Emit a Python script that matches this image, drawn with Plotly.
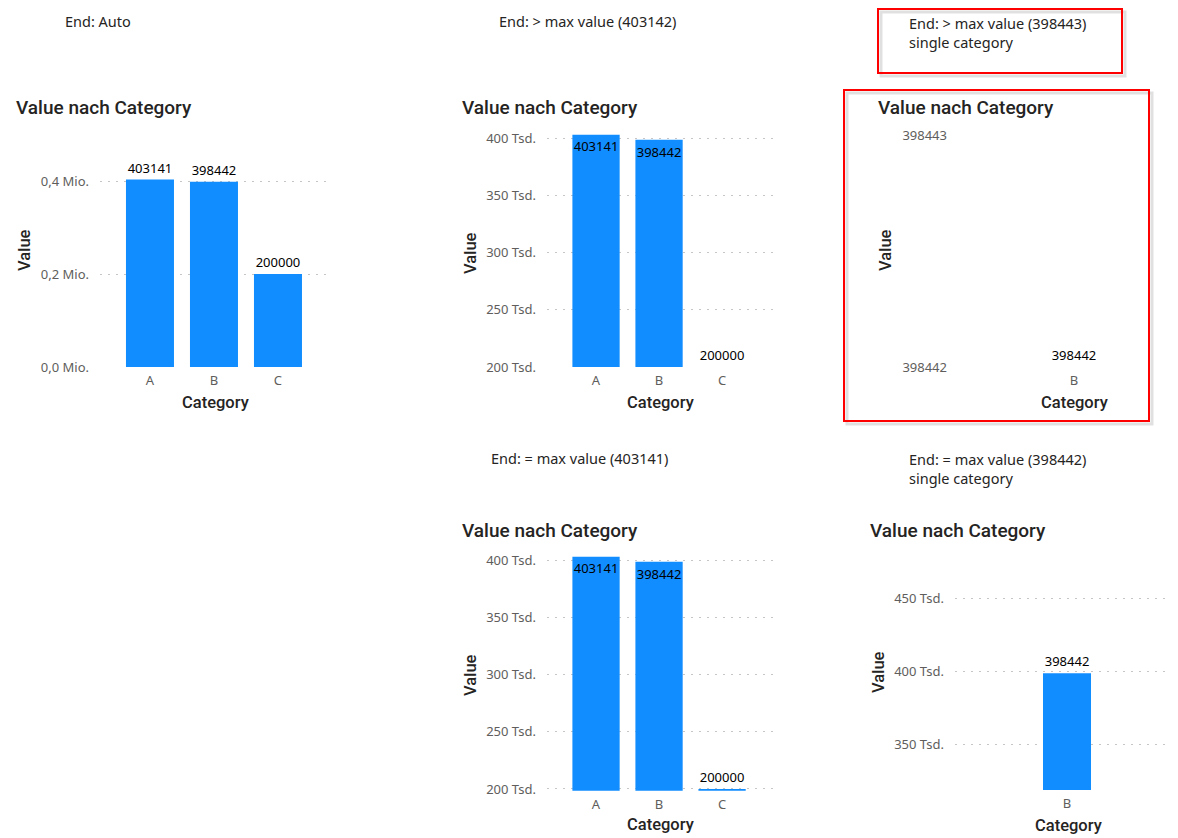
import plotly.graph_objects as go

# The page body has an 8px margin, so the figure starts at (8, 8) in the window.
OFF = 8
W, H = 1178 - OFF, 838 - OFF

# ---------------- data ----------------
categories = ["A", "B", "C"]
values = [403141, 398442, 200000]
single_category = ["B"]
single_value = [398442]

p1_tickvals = [0, 200000, 400000]
p1_ticktext = ["0,0 Mio.", "0,2 Mio.", "0,4 Mio."]
tsd_tickvals = [200000, 250000, 300000, 350000, 400000]
tsd_ticktext = ["200 Tsd.", "250 Tsd.", "300 Tsd.", "350 Tsd.", "400 Tsd."]
p3_tickvals = [398442, 398443]
p3_ticktext = ["398442", "398443"]
p5_tickvals = [350000, 400000, 450000]
p5_ticktext = ["350 Tsd.", "400 Tsd.", "450 Tsd."]

captions = [
    "End: Auto",
    "End: > max value (403142)",
    "End: > max value (398443)<br>single category",
    "End: = max value (403141)",
    "End: = max value (398442)<br>single category",
]
chart_title = "Value nach Category"
x_title = "Category"
y_title = "Value"

# ---------------- style ----------------
BAR = "#118DFF"
DARK = "#252423"
GREY = "#605E5C"
GRID = "#C8C6C4"
FONT = "Noto Sans"
TFONT = "Roboto"


def xp(px):
    return (px - OFF) / W


def yp(py):
    return 1 - (py - OFF) / H


fig = go.Figure()

panels = [
    dict(xd=(100, 327), xr=(-0.781, 2.766), yd=(160, 367), yr=(0, 445200),
         tv=p1_tickvals, tt=p1_ticktext, tp="outside", cats=categories, vals=values,
         title=(14, 108), ytitle=(24, 250), xtitle=(215, 402)),
    dict(xd=(547, 775), xr=(-0.778, 2.84), yd=(134.4, 367), yr=(200000, 403142),
         tv=tsd_tickvals, tt=tsd_ticktext, tp=["inside", "inside", "outside"],
         cats=categories, vals=values,
         title=(460, 108), ytitle=(470, 253), xtitle=(660, 402)),
    dict(xd=(958, 1178), xr=(-1.8125, 1.625), yd=(135, 367), yr=(398442, 398443),
         tv=p3_tickvals, tt=p3_ticktext, tp="outside", cats=single_category, vals=single_value,
         title=(876, 108), ytitle=(885, 250), xtitle=(1074, 402)),
    dict(xd=(547, 775), xr=(-0.778, 2.84), yd=(556.4, 790.7), yr=(198500, 403141),
         tv=tsd_tickvals, tt=tsd_ticktext, tp=["inside", "inside", "outside"],
         cats=categories, vals=values,
         title=(460, 530), ytitle=(470, 675), xtitle=(660, 824)),
    dict(xd=(955, 1178), xr=(-1.75, 1.734), yd=(560, 790), yr=(318500, 476027),
         tv=p5_tickvals, tt=p5_ticktext, tp="outside", cats=single_category, vals=single_value,
         title=(868, 530), ytitle=(878, 672), xtitle=(1068, 825)),
]

annotations = []
layout_axes = {}
for i, p in enumerate(panels, start=1):
    sfx = "" if i == 1 else str(i)
    fig.add_trace(go.Bar(
        x=list(range(len(p["cats"]))), y=p["vals"],
        text=[str(v) for v in p["vals"]],
        textposition=p["tp"], insidetextanchor="end", textangle=0,
        textfont=dict(family=FONT, size=13, color="#000000"),
        insidetextfont=dict(family=FONT, size=13, color="#000000"),
        outsidetextfont=dict(family=FONT, size=13, color="#000000"),
        constraintext="none",
        marker=dict(color=BAR, line=dict(width=0)),
        width=0.75, xaxis="x" + sfx, yaxis="y" + sfx,
        hoverinfo="skip", showlegend=False,
    ))
    layout_axes["xaxis" + sfx] = dict(
        domain=[xp(p["xd"][0]), xp(p["xd"][1])], range=list(p["xr"]),
        anchor="y" + sfx, tickmode="array",
        tickvals=list(range(len(p["cats"]))), ticktext=p["cats"],
        tickfont=dict(family=FONT, size=13, color=GREY),
        showgrid=False, zeroline=False, showline=False, ticks="",
        ticklabelstandoff=4,
        automargin=False, fixedrange=True,
    )
    layout_axes["yaxis" + sfx] = dict(
        domain=[yp(p["yd"][1]), yp(p["yd"][0])], range=list(p["yr"]),
        anchor="x" + sfx, tickmode="array", tickvals=p["tv"], ticktext=p["tt"],
        tickfont=dict(family=FONT, size=13, color=GREY),
        showgrid=True, gridcolor=GRID, griddash="2px,6px", gridwidth=1.3,
        zeroline=False, showline=False, ticks="", ticklabelstandoff=10,
        automargin=False, fixedrange=True,
    )
    annotations.append(dict(
        text=chart_title, x=xp(p["title"][0]), y=yp(p["title"][1]),
        xref="paper", yref="paper", xanchor="left", yanchor="middle",
        showarrow=False, font=dict(family=TFONT, size=19, color=DARK, weight=500),
    ))
    annotations.append(dict(
        text=y_title, x=xp(p["ytitle"][0]), y=yp(p["ytitle"][1]),
        xref="paper", yref="paper", xanchor="center", yanchor="middle",
        textangle=-90, showarrow=False,
        font=dict(family=TFONT, size=16.5, color=DARK, weight=500),
    ))
    annotations.append(dict(
        text=x_title, x=xp(p["xtitle"][0]), y=yp(p["xtitle"][1]),
        xref="paper", yref="paper", xanchor="center", yanchor="middle",
        showarrow=False, font=dict(family=TFONT, size=16.5, color=DARK, weight=500),
    ))

caption_pos = [(63, 21), (497, 21), (907, 32), (489, 458), (907, 468)]
for txt, (cx, cy) in zip(captions, caption_pos):
    annotations.append(dict(
        text=txt, x=xp(cx), y=yp(cy), xref="paper", yref="paper",
        xanchor="left", yanchor="middle", align="left", showarrow=False,
        font=dict(family=FONT, size=14.5, color=DARK),
    ))

shapes = []
for (x0, y0, x1, y1) in [(878, 9, 1122, 73), (844, 90, 1149, 421)]:
    shapes.append(dict(type="rect", xref="paper", yref="paper",
                       x0=xp(x0 + 3), x1=xp(x1 + 3), y0=yp(y1 + 3), y1=yp(y0 + 3),
                       line=dict(color="rgba(0,0,0,0.12)", width=3), layer="below"))
    shapes.append(dict(type="rect", xref="paper", yref="paper",
                       x0=xp(x0), x1=xp(x1), y0=yp(y1), y1=yp(y0),
                       line=dict(color="#FF0000", width=2), layer="above"))

fig.update_layout(
    width=W, height=H, autosize=False,
    margin=dict(l=0, r=0, t=0, b=0),
    paper_bgcolor="white", plot_bgcolor="white",
    annotations=annotations, shapes=shapes,
    **layout_axes,
)

fig.write_html("out.html", config={"displayModeBar": False})
